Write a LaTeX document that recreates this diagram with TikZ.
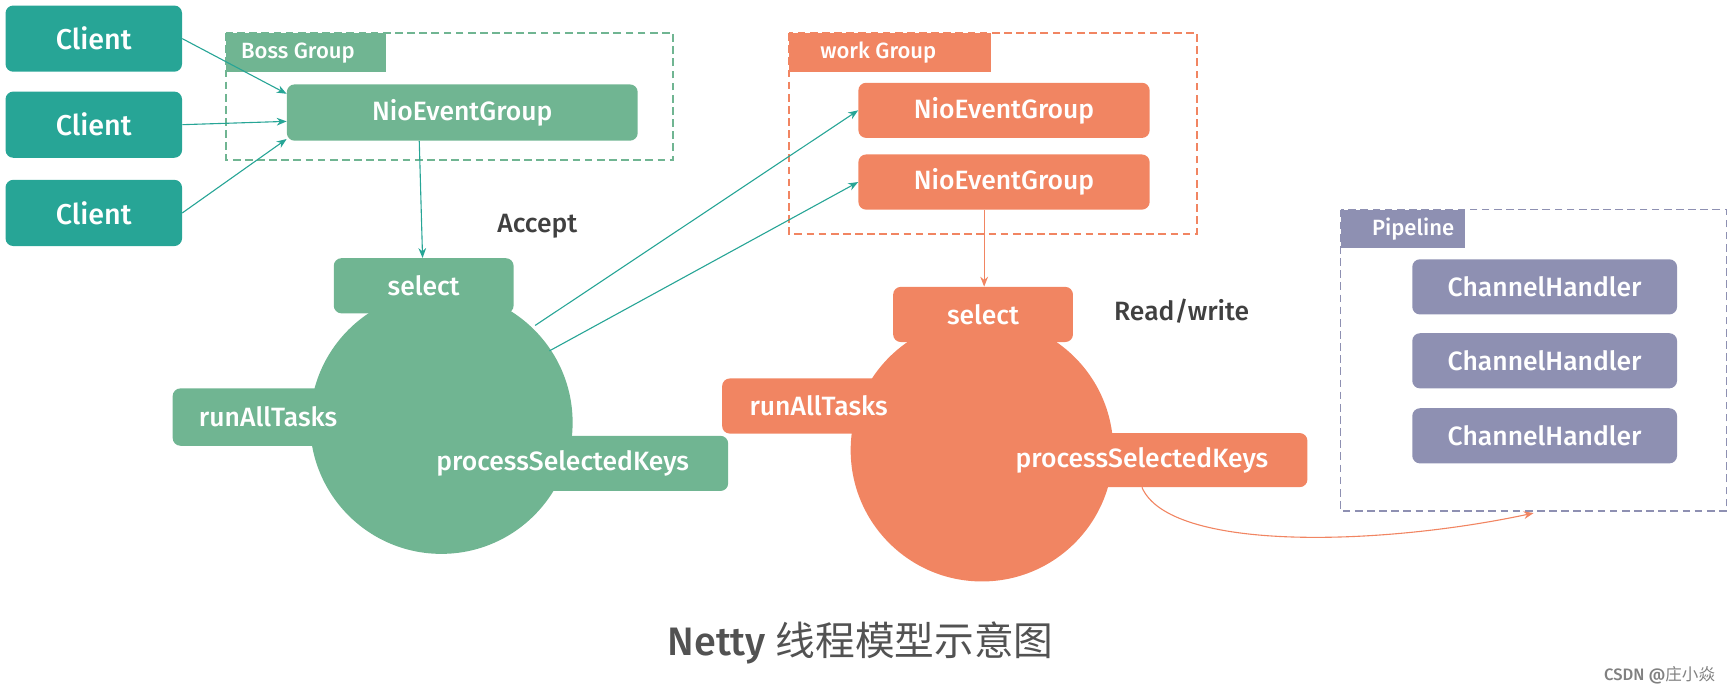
\documentclass[tikz,border=0pt]{standalone}
\usepackage{fontspec}
\IfFontExistsTF{Fira Sans Medium}{\setmainfont{Fira Sans Medium}}{\setmainfont{Fira Sans}}
\newfontfamily\cjk{Noto Sans CJK SC}
\usetikzlibrary{arrows.meta}
\definecolor{teal1}{HTML}{27A596}
\definecolor{grn}{HTML}{70B592}
\definecolor{org}{HTML}{F18562}
\definecolor{pur}{HTML}{8E90B2}
\begin{document}
\begin{tikzpicture}[x=1pt,y=-1pt,
  box/.style={rounded corners=7pt,text=white,font=\fontsize{24}{28}\selectfont,inner sep=0pt},
  grp/.style={dash pattern=on 7pt off 4pt,line width=1.3pt},
  ar/.style={-{Stealth[length=9pt,width=7pt]},line width=1pt}]
\useasboundingbox (0,0) rectangle (1568,630);
% groups
\draw[grn,grp] (205,30) rectangle (610,145);
\fill[grn] (205,30) rectangle (350,65);
\node[text=white,font=\fontsize{20}{24}\selectfont,anchor=west] (bg) at (215,48) {Boss Group};
\draw[org,grp] (715,30) rectangle (1085,212);
\fill[org] (715,30) rectangle (898,65);
\node[text=white,font=\fontsize{20}{24}\selectfont,anchor=west] (wg) at (740,48) {work Group};
\draw[pur,grp] (1215,190) rectangle (1565,463);
\fill[pur] (1215,190) rectangle (1328,225);
\node[text=white,font=\fontsize{20}{24}\selectfont,anchor=west] (pg) at (1240,208) {Pipeline};
% circles
\fill[grn] (400,383) circle (119);
\fill[org] (890,408) circle (119);
% clients
\foreach \y/\n in {35/c1,113/c2,193/c3}
  \node[box,fill=teal1,minimum width=160pt,minimum height=60pt,font=\fontsize{26}{30}\selectfont] (\n) at (85,\y) {Client};
\node[box,fill=grn,minimum width=318pt,minimum height=51pt] (bn) at (419,102) {NioEventGroup};
\node[box,fill=grn,minimum width=163pt,minimum height=50pt] (s1) at (384,259) {select};
\node[box,fill=grn,minimum width=173pt,minimum height=52pt] (r1) at (243,378) {runAllTasks};
\node[box,fill=grn,minimum width=300pt,minimum height=50pt] (p1) at (510,420) {processSelectedKeys};
\node[font=\fontsize{24}{28}\selectfont,text=black!75] (acc) at (487,205) {Accept};
\node[box,fill=org,minimum width=264pt,minimum height=50pt] (w1) at (910,100) {NioEventGroup};
\node[box,fill=org,minimum width=264pt,minimum height=50pt] (w2) at (910,165) {NioEventGroup};
\node[box,fill=org,minimum width=163pt,minimum height=50pt] (s2) at (891,285) {select};
\node[box,fill=org,minimum width=175pt,minimum height=50pt] (r2) at (742,368) {runAllTasks};
\node[box,fill=org,minimum width=300pt,minimum height=49pt] (p2) at (1035,417) {processSelectedKeys};
\node[font=\fontsize{24}{28}\selectfont,text=black!75] (rw) at (1071,282) {Read/write};
\foreach \y/\n in {260/h1,327/h2,395/h3}
  \node[box,fill=pur,minimum width=240pt,minimum height=50pt] (\n) at (1400,\y) {ChannelHandler};
% arrows
\draw[ar,teal1] (c1.east) -- (bn.west|-0,85);
\draw[ar,teal1] (c2.east) -- (bn.west|-0,110);
\draw[ar,teal1] (c3.east) -- (bn.west|-0,126);
\draw[ar,teal1] (bn.south-|380,0) -- (s1.north-|383,0);
\coordinate (g1) at (485,295);
\coordinate (g2) at (498,318);
\draw[ar,teal1] (g1) -- (w1.west);
\draw[ar,teal1] (g2) -- (w2.west);
\draw[ar,org] (w2.south-|892,0) -- (s2.north-|892,0);
\coordinate (pe) at (1390,465);
\draw[ar,org] (p2.south-|1035,0) .. controls (1060,500) and (1250,495) .. (pe);
% title
\node[font=\fontsize{36}{40}\selectfont,text=black!68] (t) at (780,583) {Netty {\cjk 线程模型示意图}};
\node[font=\fontsize{15}{18}\selectfont,text=black!50,anchor=east] (cs) at (1558,612) {CSDN @{\cjk 庄小焱}};
\end{tikzpicture}
\end{document}
